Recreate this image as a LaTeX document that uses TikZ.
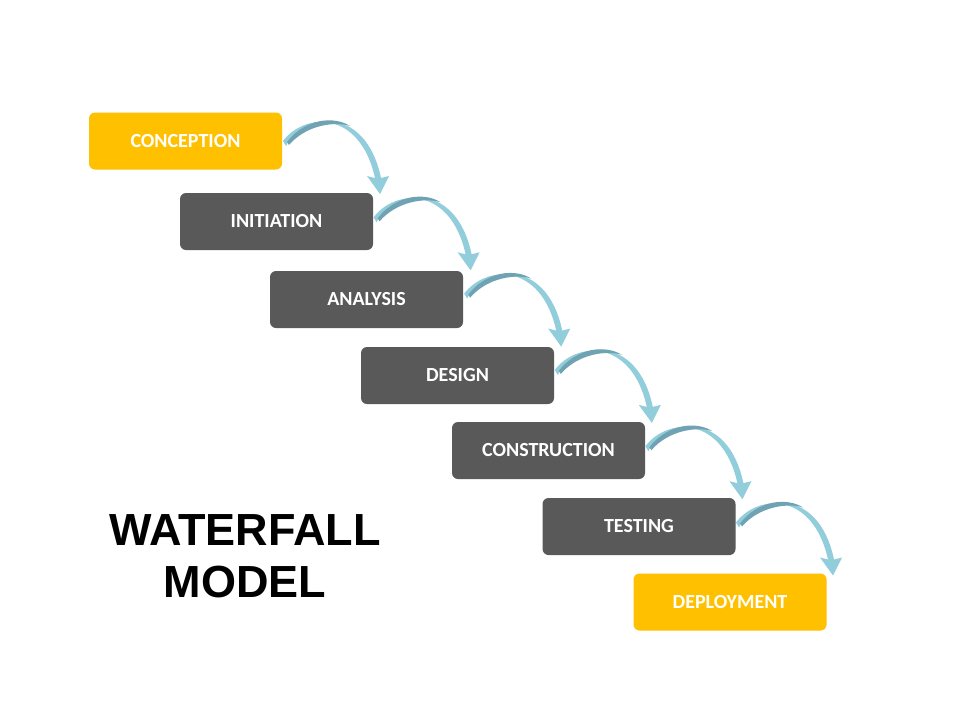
\documentclass[tikz,border=0pt]{standalone}
\usepackage{fontspec}
\setmainfont{Carlito}
\newfontfamily\titlefont{Liberation Sans}
\definecolor{boxgray}{HTML}{595959}
\definecolor{boxgold}{HTML}{FFC000}
\definecolor{arrblue}{HTML}{92CDDC}
\definecolor{arrdark}{HTML}{6FA3B3}
\begin{document}
\begin{tikzpicture}[x=1pt,y=-1pt,
  stage/.style={rectangle,rounded corners=6pt,minimum width=193pt,minimum height=57pt,inner sep=0pt,text=white,font=\bfseries\fontsize{20}{24}\selectfont},
  graystage/.style={stage,fill=boxgray},
  goldstage/.style={stage,fill=boxgold}]
\useasboundingbox (0,0) rectangle (960,720);
\fill[white] (0,0) rectangle (960,720);
\node[goldstage] (s0) at (185.5,141) {CONCEPTION};
\node[graystage] (s1) at (276.5,221.5) {INITIATION};
\node[graystage] (s2) at (366.5,299.5) {ANALYSIS};
\node[graystage] (s3) at (457.5,375.5) {DESIGN};
\node[graystage] (s4) at (548.5,450.5) {CONSTRUCTION};
\node[graystage] (s5) at (639,526.5) {TESTING};
\node[goldstage] (s6) at (730,602) {DEPLOYMENT};
\foreach \i in {0,...,5}{
  \begin{scope}[shift={(90.6*\i,76.3*\i)}]
    \fill[arrblue] (283,141) .. controls (305,112) and (360,110) .. (375,178)
      -- (367,176) -- (380,194) -- (389,176) -- (381,178)
      .. controls (365,102) and (300,114) .. (286,146) -- cycle;
    \fill[arrdark] (287,142) .. controls (305,118) and (335,116) .. (350,126)
      .. controls (335,121) and (306,125) .. (289,145) -- cycle;
  \end{scope}
}
\node[font=\titlefont\bfseries\fontsize{45}{52}\selectfont,align=center] (title) at (245,556) {WATERFALL\\MODEL};
\end{tikzpicture}
\end{document}
